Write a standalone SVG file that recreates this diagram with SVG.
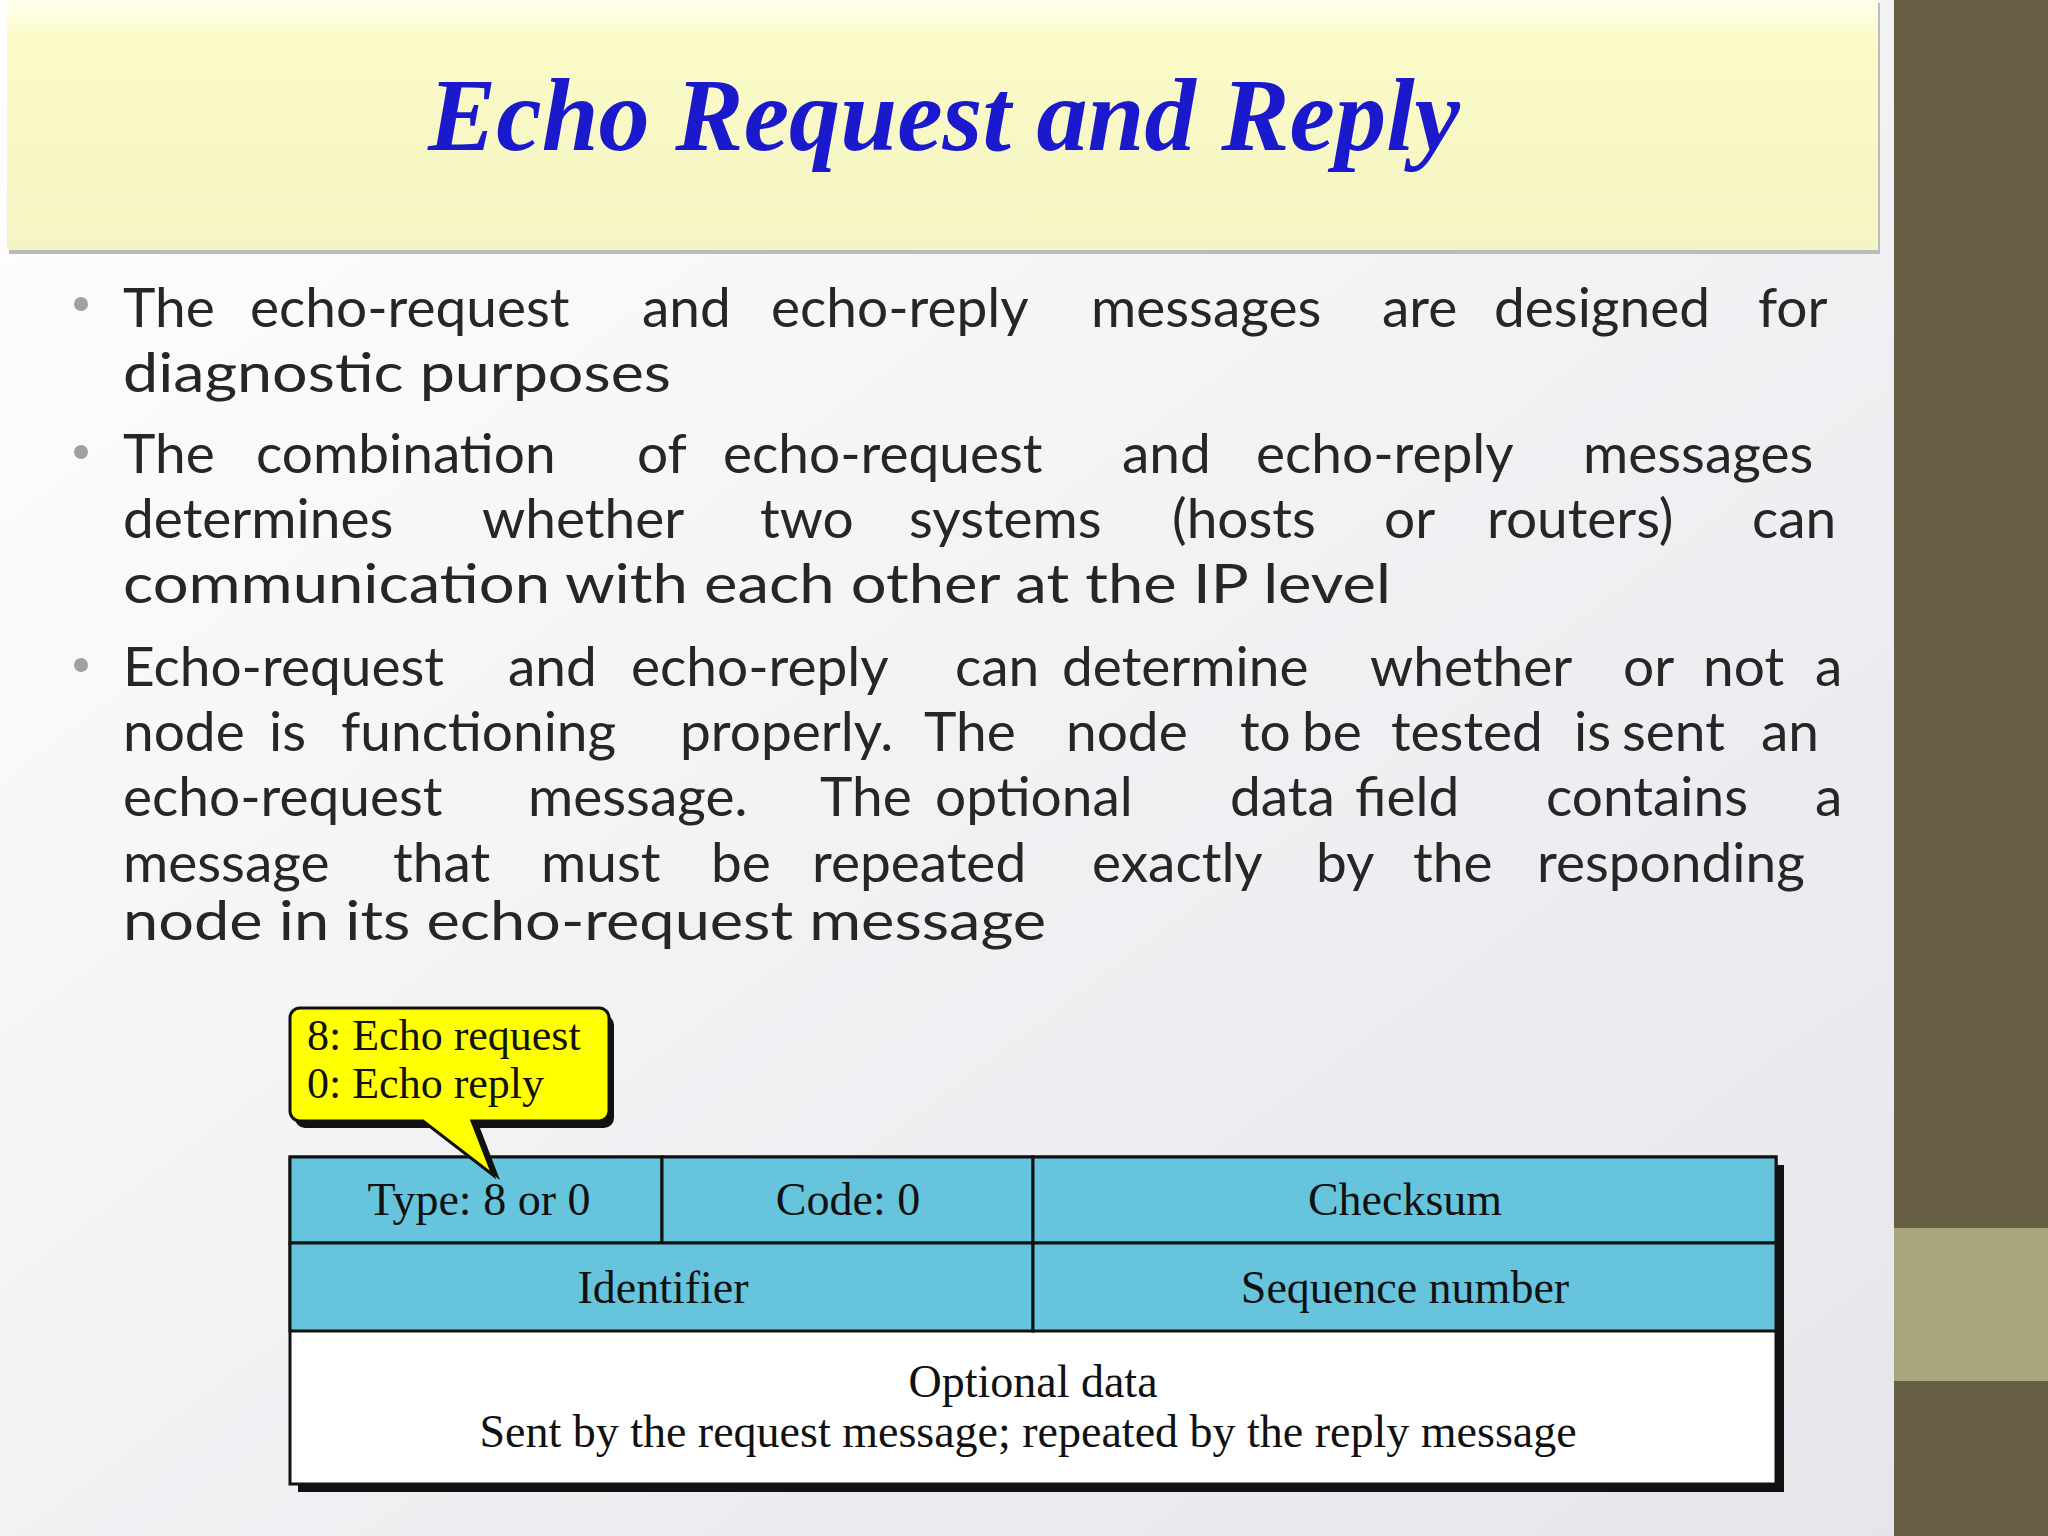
<svg xmlns="http://www.w3.org/2000/svg" width="2048" height="1536" viewBox="0 0 2048 1536">
<defs>
<linearGradient id="bg" x1="0" y1="0" x2="1" y2="1"><stop offset="0" stop-color="#ffffff"/><stop offset="1" stop-color="#e4e4ea"/></linearGradient>
<linearGradient id="ban" x1="0" y1="0" x2="0" y2="1"><stop offset="0" stop-color="#ffffee"/><stop offset="0.15" stop-color="#fbfbc8"/><stop offset="1" stop-color="#f4f4c4"/></linearGradient>
<style>
.b{font-family:Lato,"Open Sans",sans-serif;font-size:55px;fill:#262626}
.s{font-family:"Liberation Serif",serif;font-size:46px;fill:#111}
.k{font-family:"Liberation Serif",serif;font-size:44px;fill:#111}
.c{fill:#66c4dd;stroke:#111;stroke-width:3}
</style>
</defs>
<rect width="2048" height="1536" fill="url(#bg)"/>
<rect x="1894" y="0" width="154" height="1536" fill="#665f45"/>
<rect x="1894" y="1228" width="154" height="153" fill="#a9a67e"/>
<rect x="9" y="3" width="1871" height="251" fill="#bbb"/>
<rect x="7" y="0" width="1871" height="250" fill="url(#ban)"/>
<text x="428" y="150" textLength="1032" lengthAdjust="spacingAndGlyphs" font-family="Liberation Serif,serif" font-style="italic" font-weight="bold" font-size="104" fill="#1a1acc">Echo Request and Reply</text>
<g id="bullets">
<circle cx="81" cy="304" r="7" fill="#a0a0a0"/>
<circle cx="81" cy="452" r="7" fill="#a0a0a0"/>
<circle cx="81" cy="665" r="7" fill="#a0a0a0"/>
<text class="b" y="327"><tspan x="123">The</tspan><tspan x="250">echo-request</tspan><tspan x="642">and</tspan><tspan x="771">echo-reply</tspan><tspan x="1091">messages</tspan><tspan x="1382">are</tspan><tspan x="1494">designed</tspan><tspan x="1758">for</tspan></text>
<text class="b" x="123" y="392" textLength="548" lengthAdjust="spacingAndGlyphs">diagnostic purposes</text>
<text class="b" y="473"><tspan x="123">The</tspan><tspan x="256">combination</tspan><tspan x="637">of</tspan><tspan x="723">echo-request</tspan><tspan x="1122">and</tspan><tspan x="1256">echo-reply</tspan><tspan x="1583">messages</tspan></text>
<text class="b" y="538"><tspan x="123">determines</tspan><tspan x="482">whether</tspan><tspan x="760">two</tspan><tspan x="909">systems</tspan><tspan x="1172">(hosts</tspan><tspan x="1384">or</tspan><tspan x="1487">routers)</tspan><tspan x="1752">can</tspan></text>
<text class="b" x="123" y="603" textLength="1268" lengthAdjust="spacingAndGlyphs">communication with each other at the IP level</text>
<text class="b" y="686"><tspan x="123">Echo-request</tspan><tspan x="508">and</tspan><tspan x="631">echo-reply</tspan><tspan x="955">can</tspan><tspan x="1062">determine</tspan><tspan x="1370">whether</tspan><tspan x="1623">or</tspan><tspan x="1703">not</tspan><tspan x="1815">a</tspan></text>
<text class="b" y="751"><tspan x="123">node</tspan><tspan x="269">is</tspan><tspan x="341">functioning</tspan><tspan x="680">properly.</tspan><tspan x="924">The</tspan><tspan x="1066">node</tspan><tspan x="1240">to</tspan><tspan x="1302">be</tspan><tspan x="1391">tested</tspan><tspan x="1574">is</tspan><tspan x="1622">sent</tspan><tspan x="1761">an</tspan></text>
<text class="b" y="816"><tspan x="123">echo-request</tspan><tspan x="528">message.</tspan><tspan x="820">The</tspan><tspan x="935">optional</tspan><tspan x="1230">data</tspan><tspan x="1355">field</tspan><tspan x="1546">contains</tspan><tspan x="1815">a</tspan></text>
<text class="b" y="882"><tspan x="123">message</tspan><tspan x="393">that</tspan><tspan x="541">must</tspan><tspan x="711">be</tspan><tspan x="812">repeated</tspan><tspan x="1092">exactly</tspan><tspan x="1316">by</tspan><tspan x="1413">the</tspan><tspan x="1537">responding</tspan></text>
<text class="b" x="123" y="940" textLength="923" lengthAdjust="spacingAndGlyphs">node in its echo-request message</text>
</g>
<g id="table">
<rect x="298" y="1165" width="1486" height="327" fill="#111"/>
<rect x="290" y="1157" width="1486" height="327" fill="#fff" stroke="#111" stroke-width="3"/>
<rect class="c" x="290" y="1157" width="372" height="86"/>
<rect class="c" x="662" y="1157" width="371" height="86"/>
<rect class="c" x="1033" y="1157" width="743" height="86"/>
<rect class="c" x="290" y="1243" width="743" height="88"/>
<rect class="c" x="1033" y="1243" width="743" height="88"/>
<text class="s" x="479" y="1215" text-anchor="middle">Type: 8 or 0</text>
<text class="s" x="848" y="1215" text-anchor="middle">Code: 0</text>
<text class="s" x="1405" y="1215" text-anchor="middle">Checksum</text>
<text class="s" x="663" y="1303" text-anchor="middle">Identifier</text>
<text class="s" x="1405" y="1303" text-anchor="middle">Sequence number</text>
<text class="s" x="1033" y="1397" text-anchor="middle">Optional data</text>
<text class="s" x="1028" y="1447" text-anchor="middle">Sent by the request message; repeated by the reply message</text>
</g>
<g id="callout">
<path d="M305,1015 H604 a10,10 0 0 1 10,10 V1118 a10,10 0 0 1 -10,10 H480 L500,1180 L431,1128 H305 a10,10 0 0 1 -10,-10 V1025 a10,10 0 0 1 10,-10 Z" fill="#111"/>
<path d="M300,1008 H599 a10,10 0 0 1 10,10 V1111 a10,10 0 0 1 -10,10 H472 L493,1175 L423,1121 H300 a10,10 0 0 1 -10,-10 V1018 a10,10 0 0 1 10,-10 Z" fill="#ffff00" stroke="#111" stroke-width="3"/>
<text class="k" x="307" y="1050">8: Echo request</text>
<text class="k" x="307" y="1098">0: Echo reply</text>
</g>
</svg>
